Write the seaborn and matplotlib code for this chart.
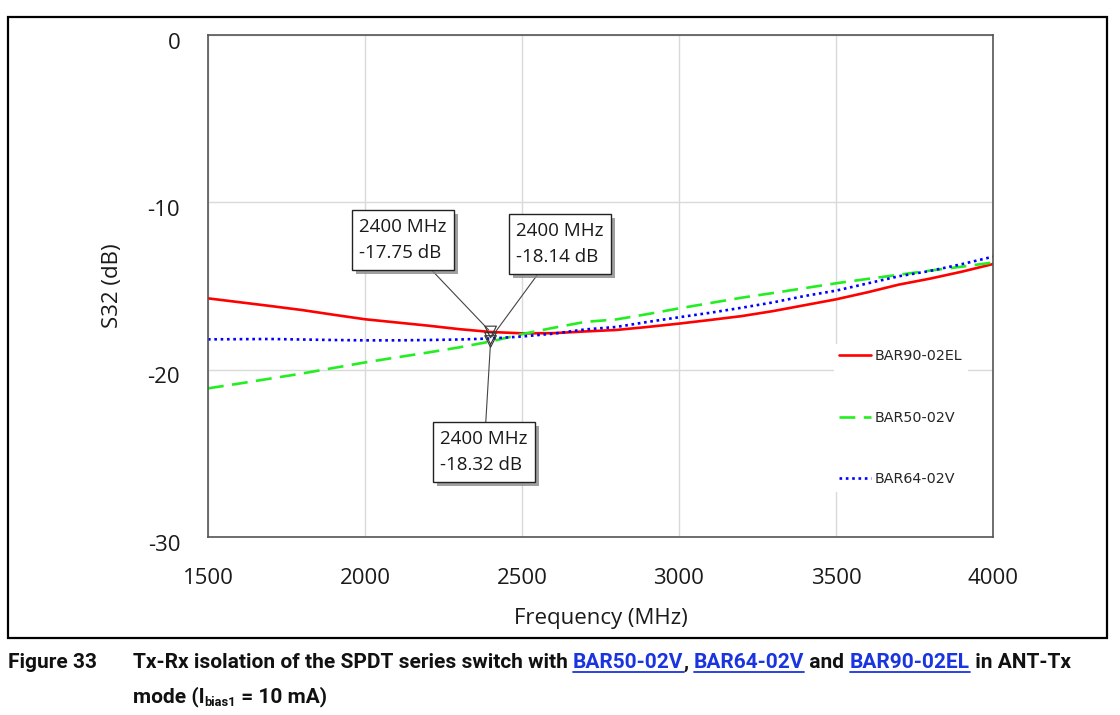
import matplotlib
matplotlib.use("Agg")
import matplotlib.pyplot as plt
import matplotlib.patheffects as pe
import matplotlib.transforms as mtransforms
from matplotlib.lines import Line2D
from matplotlib.patches import Rectangle
from matplotlib.ticker import FixedLocator, MultipleLocator
import pandas as pd
import seaborn as sns

# values, every 100 MHz
freq = list(range(1500, 4001, 100))
bar90_02el = [-15.74, -15.97, -16.20, -16.44, -16.72, -16.99, -17.18, -17.37, -17.58, -17.75,
              -17.83, -17.82, -17.72, -17.63, -17.45, -17.25, -17.03, -16.80, -16.50, -16.15,
              -15.80, -15.38, -14.92, -14.56, -14.15, -13.69]
bar50_02v = [-21.12, -20.83, -20.53, -20.23, -19.90, -19.57, -19.27, -18.98, -18.67, -18.32,
             -17.88, -17.50, -17.15, -17.00, -16.68, -16.34, -16.02, -15.70, -15.42, -15.13,
             -14.84, -14.58, -14.33, -14.08, -13.85, -13.60]
bar64_02v = [-18.19, -18.18, -18.17, -18.20, -18.23, -18.25, -18.25, -18.23, -18.20, -18.14,
             -18.02, -17.85, -17.60, -17.45, -17.15, -16.87, -16.60, -16.30, -15.98, -15.60,
             -15.28, -14.85, -14.42, -14.10, -13.70, -13.25]
devices = ["BAR90-02EL", "BAR50-02V", "BAR64-02V"]
y_ticks = [-30, -20, -10, 0]

marker_freq = 2400
marker_values = [-17.75, -18.32, -18.14]
# where the marker boxes sit (MHz, dB)
box_pos = [(2121, -12.25), (2379, -24.92), (2621, -12.49)]

caption_line1 = [
    ("Tx-Rx isolation of the SPDT series switch with ", False),
    ("BAR50-02V", True),
    (", ", False),
    ("BAR64-02V", True),
    (" and ", False),
    ("BAR90-02EL", True),
    (" in ANT-Tx", False),
]

sns.set_theme(style="white")
plt.rcParams["font.family"] = ["Open Sans", "DejaVu Sans"]
plt.rcParams["axes.unicode_minus"] = False

df = pd.DataFrame(
    {
        "Frequency (MHz)": freq * 3,
        "S32 (dB)": bar90_02el + bar50_02v + bar64_02v,
        "device": [d for d in devices for _ in freq],
    }
)
palette = {"BAR90-02EL": "#ff0000", "BAR50-02V": "#22ee22", "BAR64-02V": "#0000ff"}
dashes = {"BAR90-02EL": "", "BAR50-02V": (6, 3.2), "BAR64-02V": (1, 1.4)}

fig = plt.figure(figsize=(11.2, 7.15), dpi=100)
ax = fig.add_axes([0.1857, 0.2490, 0.7009, 0.7021])

sns.lineplot(
    data=df,
    x="Frequency (MHz)",
    y="S32 (dB)",
    hue="device",
    style="device",
    palette=palette,
    dashes=dashes,
    linewidth=1.9,
    ax=ax,
)

ax.set_xlim(1500, 4000)
ax.set_ylim(-30, 0)
ax.xaxis.set_major_locator(MultipleLocator(500))
ax.xaxis.set_minor_locator(MultipleLocator(250))
ax.yaxis.set_major_locator(FixedLocator(y_ticks))
ax.yaxis.set_minor_locator(MultipleLocator(5))
ax.set_yticks(y_ticks, [str(v) for v in y_ticks])
ax.grid(True, which="major", color="#d9d9d9", linewidth=1)
ax.tick_params(which="major", length=0, labelsize=16, pad=22, labelcolor="#1a1a1a")
ax.tick_params(which="minor", direction="in", length=9, width=1, color="#555555")
ax.tick_params(axis="y", which="major", pad=20)
# y labels sit a little below their grid lines in the reference
shift = mtransforms.ScaledTranslation(0, -4 / 72, fig.dpi_scale_trans)
for lab in ax.get_yticklabels():
    lab.set_transform(lab.get_transform() + shift)
for sp in ax.spines.values():
    sp.set_color("#555555")
    sp.set_linewidth(1.2)
ax.set_xlabel("Frequency (MHz)", fontsize=16, labelpad=14, color="#1a1a1a")
ax.set_ylabel("S32 (dB)", fontsize=16, labelpad=18, color="#1a1a1a")

handles, labels = ax.get_legend_handles_labels()
keep = [(h, l) for h, l in zip(handles, labels) if l in devices]
leg = ax.legend(
    [h for h, _ in keep],
    [l for _, l in keep],
    loc="upper left",
    bbox_to_anchor=(0.797, 0.385),
    frameon=True,
    framealpha=1,
    edgecolor="none",
    facecolor="white",
    fancybox=False,
    labelspacing=3.3,
    handlelength=2.2,
    handletextpad=0.25,
    borderaxespad=0,
    prop={"family": "DejaVu Sans", "size": 10.3},
)

# marker points with their value boxes
ax.scatter(
    [marker_freq] * 3, marker_values, marker="v", s=70,
    facecolors="none", edgecolors="#333333", linewidths=0.8, zorder=5,
)
for val, (bx, by) in zip(marker_values, box_pos):
    ann = ax.annotate(
        f"{marker_freq} MHz\n{val:.2f} dB",
        xy=(marker_freq, val),
        xytext=(bx, by),
        ha="center",
        va="center",
        multialignment="left",
        fontsize=13.5,
        color="#1a1a1a",
        linespacing=1.6,
        bbox=dict(boxstyle="square,pad=0.4", fc="white", ec="#222222", lw=1),
        arrowprops=dict(arrowstyle="-", color="#444444", lw=0.8, shrinkA=0, shrinkB=2),
        zorder=6,
    )
    ann.get_bbox_patch().set_path_effects(
        [pe.SimplePatchShadow(offset=(3, -3), shadow_rgbFace="#888888", alpha=0.8), pe.Normal()]
    )

# frame around the chart
fig.add_artist(
    Rectangle((0.0071, 0.1077), 0.9813, 0.8685, transform=fig.transFigure,
              fill=False, ec="black", lw=1.6)
)

# caption below the frame
renderer = fig.canvas.get_renderer()


def text_width(s, **kw):
    t = fig.text(0, 0, s, **kw)
    w = t.get_window_extent(renderer).width
    t.remove()
    return w / fig.bbox.width


cap_font = {"family": ["Roboto", "DejaVu Sans"], "weight": "bold", "size": 15}
full_line = "".join(p for p, _ in caption_line1)
# shrink so the first line spans the same width as in the reference
cap_font["size"] = min(15, 15 * (949 / 1120) / text_width(full_line, **cap_font))
link_color = "#1a35e0"

fig.text(8 / 1120, 1 - 662 / 715, "Figure 33", va="center", color="#111111", **cap_font)
x0 = 133 / 1120
y1 = 1 - 662 / 715
so_far = ""
for piece, link in caption_line1:
    so_far += piece
    x = x0 + text_width(so_far, **cap_font) - text_width(piece, **cap_font)
    col = link_color if link else "#111111"
    fig.text(x, y1, piece, va="center", color=col, **cap_font)
    if link:
        w = text_width(piece, **cap_font)
        fig.add_artist(Line2D([x, x + w], [y1 - 0.014, y1 - 0.014], transform=fig.transFigure,
                              color=link_color, lw=1.3))

y2 = 1 - 697 / 715
fig.text(x0, y2, "mode (I", va="center", color="#111111", **cap_font)
xs = x0 + text_width("mode (I", **cap_font)
sub_font = dict(cap_font, size=cap_font["size"] * 0.62)
fig.text(xs, y2 - 0.008, "bias1", va="center", color="#111111", **sub_font)
xs += text_width("bias1", **sub_font)
fig.text(xs, y2, " = 10 mA)", va="center", color="#111111", **cap_font)

fig.savefig("out.png", dpi=100)
